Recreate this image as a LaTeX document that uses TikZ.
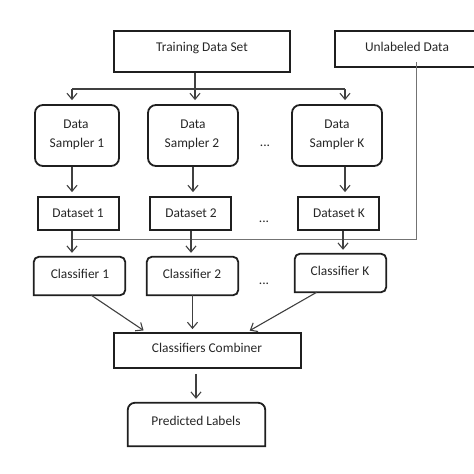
\documentclass[tikz,border=0pt]{standalone}
\usepackage{fontspec}
\setmainfont{Carlito}
\usetikzlibrary{arrows.meta,calc}
\begin{document}
\begin{tikzpicture}[x=1pt,y=-1pt,
  box/.style={draw=black!88,line width=1.8pt,inner sep=0pt},
  hold/.style={draw=none,inner sep=0pt},
  boxline/.style={draw=black!88,line width=1.8pt},
  txt/.style={font=\fontsize{13.4}{15}\selectfont,text=black!85,anchor=base,inner sep=0pt},
  conn/.style={draw=black!75,line width=1.1pt},
  arr/.style={conn,-{Straight Barb[length=6pt,width=10pt,line width=1.1pt]},shorten >=4pt},
]
\useasboundingbox (0,0) rectangle (474,474);

% columns
\coordinate (colA) at (72,0);
\coordinate (colB) at (193,0);
\coordinate (colBb) at (191,0);
\coordinate (colC) at (345,0);
\coordinate (colCc) at (343,0);
\coordinate (colT) at (195,0);
\coordinate (colU) at (416,0);
\coordinate (rowS) at (0,89);
\coordinate (rowU) at (0,239);

% top boxes
\node[box,minimum width=176pt,minimum height=41pt] (tds) at (202,51.5) {};
\node[txt] (tdsT) at (202,51) {Training Data Set};
\node[box,minimum width=145pt,minimum height=36pt] (unl) at (407.5,49) {};
\node[txt] (unlT) at (407,51) {Unlabeled Data};

% samplers
\node[box,rounded corners=8pt,minimum width=84pt,minimum height=61pt] (ds1) at (77,135.5) {};
\node[box,rounded corners=8pt,minimum width=90pt,minimum height=61pt] (ds2) at (193,135.5) {};
\node[box,rounded corners=8pt,minimum width=90pt,minimum height=61pt] (dsK) at (337,135.5) {};
\node[txt] (ds1a) at (76,128) {Data};
\node[txt] (ds1b) at (77,147) {Sampler 1};
\node[txt] (ds2a) at (193,128) {Data};
\node[txt] (ds2b) at (192,147) {Sampler 2};
\node[txt] (dsKa) at (337,128) {Data};
\node[txt] (dsKb) at (337,147) {Sampler K};
\node[txt] (dots1) at (265,146) {...};

% datasets
\node[box,minimum width=81pt,minimum height=33pt] (d1) at (78.5,213.5) {};
\node[box,minimum width=81pt,minimum height=33pt] (d2) at (190.5,213.5) {};
\node[box,minimum width=81pt,minimum height=33pt] (dK) at (338.5,213.5) {};
\node[txt] (d1T) at (78,217) {Dataset 1};
\node[txt] (d2T) at (191,217) {Dataset 2};
\node[txt] (dKT) at (339,217) {Dataset K};
\node[txt] (dots2) at (264,222) {...};

% classifiers
\node[hold,minimum width=91pt,minimum height=38pt] (c1) at (79.5,276) {};
\node[hold,minimum width=91pt,minimum height=38pt] (c2) at (192.5,276) {};
\node[hold,minimum width=91pt,minimum height=38pt] (cK) at (340.5,273) {};
\foreach \n in {c1,c2,cK}{
  \draw[boxline] (\n.south west) [rounded corners=5pt] -- (\n.north west) -- (\n.north east) -- (\n.south east) [sharp corners] -- cycle;
}
\node[txt] (c1T) at (80,278) {Classifier 1};
\node[txt] (c2T) at (192,278) {Classifier 2};
\node[txt] (cKT) at (340,275) {Classifier K};
\node[txt] (dots3) at (264,284) {...};

% combiner and predicted
\node[box,minimum width=187pt,minimum height=35pt] (comb) at (207.5,350.5) {};
\node[txt] (combT) at (207,352) {Classifiers Combiner};
\node[hold,minimum width=137pt,minimum height=43pt] (pred) at (196.5,424.5) {};
\draw[boxline] (pred.south west) [rounded corners=7pt] -- (pred.north west) -- (pred.north east) [sharp corners] -- (pred.south east) -- cycle;
\node[txt] (predT) at (196,425) {Predicted Labels};

% training distribution
\draw[conn] (colT |- tds.south) -- (colT |- rowS);
\draw[conn] (colA |- rowS) -- (colC |- rowS);
\draw[arr] (colA |- rowS) -- (colA |- ds1.north);
\draw[arr] (colT |- rowS) -- (colT |- ds2.north);
\draw[arr] (colC |- rowS) -- (colC |- dsK.north);

% unlabeled line
\draw[draw=black!55,line width=1pt] ([yshift=6pt]colU |- unl.south) -- (colU |- rowU) -- (colA |- rowU);

% samplers to datasets
\draw[arr] (colA |- ds1.south) -- (colA |- d1.north);
\draw[arr] (colB |- ds2.south) -- (colB |- d2.north);
\draw[arr] (colC |- dsK.south) -- (colC |- dK.north);

% datasets to classifiers
\draw[arr] (colA |- d1.south) -- (colA |- c1.north);
\draw[arr] (colBb |- d2.south) -- (colBb |- c2.north);
\draw[arr] (colCc |- dK.south) -- (colCc |- cK.north);

% classifiers to combiner
\draw[arr,shorten >=3pt] ([xshift=-34pt]c1.south east) -- ([xshift=33pt]comb.north west);
\draw[arr,shorten >=3pt] (c2.south) -- (c2.south |- comb.north);
\draw[arr,shorten >=3pt] ([xshift=22pt]cK.south west) -- ([xshift=134pt]comb.north west);

% combiner to predicted
\draw[arr,shorten <=5pt] ([xshift=-11.5pt]comb.south) -- ([xshift=-11.5pt]comb.south |- pred.north);
\end{tikzpicture}
\end{document}
